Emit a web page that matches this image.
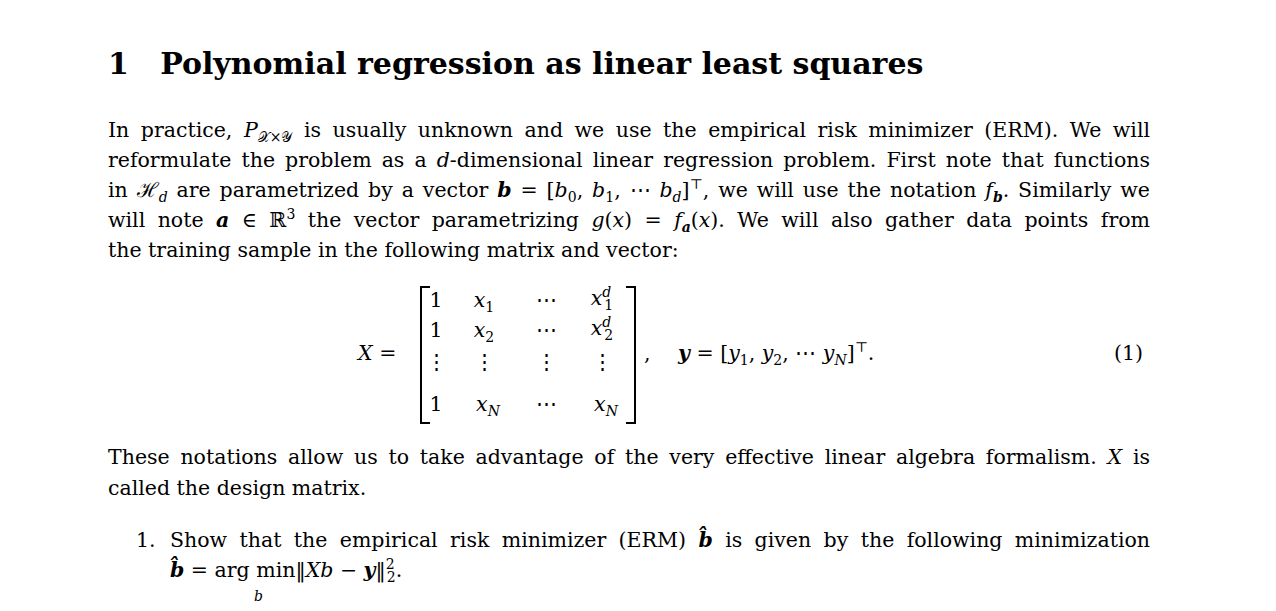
<!DOCTYPE html>
<html><head><meta charset="utf-8">
<script src="https://cdn.jsdelivr.net/npm/chart.js@4"></script>
<style>
body{margin:0;width:1276px;height:611px;background:#fff;font-family:"DejaVu Serif",serif;color:#000;overflow:hidden;position:relative}
.a{position:absolute;white-space:nowrap}
h1{position:absolute;left:108px;top:46px;margin:0;font-size:30px;font-weight:bold;white-space:nowrap}
.p{position:absolute;left:108px;width:1042px;font-size:20.5px;line-height:30px;text-align:justify;text-align-last:justify;white-space:nowrap}
.last{text-align-last:left}
i{font-style:italic}
sub,sup{font-size:14px;line-height:0}
.mat{position:absolute;left:420px;top:286px;width:212px;height:138px;border-left:2px solid #000;border-right:2px solid #000}
.mat:before,.mat:after{content:"";position:absolute;top:0;bottom:0;width:8px;border-top:2px solid #000;border-bottom:2px solid #000}
.mat:before{left:0}.mat:after{right:0}
.c{position:absolute;font-size:20.5px;transform:translateX(-50%);white-space:nowrap}
</style></head><body>
<h1>1&nbsp;&nbsp;&nbsp;Polynomial regression as linear least squares</h1>
<div class="p" style="top:115px">In practice, <i>P</i><sub>𝒳×𝒴</sub> is usually unknown and we use the empirical risk minimizer (ERM). We will</div>
<div class="p" style="top:145px">reformulate the problem as a <i>d</i>-dimensional linear regression problem. First note that functions</div>
<div class="p" style="top:175px">in ℋ<sub><i>d</i></sub> are parametrized by a vector <b><i>b</i></b> = [<i>b</i><sub>0</sub>, <i>b</i><sub>1</sub>, ⋯ <i>b<sub>d</sub></i>]<sup>⊤</sup>, we will use the notation <i>f</i><sub><b><i>b</i></b></sub>. Similarly we</div>
<div class="p" style="top:205px">will note <b><i>a</i></b> ∈ ℝ<sup>3</sup> the vector parametrizing <i>g</i>(<i>x</i>) = <i>f</i><sub><b><i>a</i></b></sub>(<i>x</i>). We will also gather data points from</div>
<div class="p last" style="top:235px">the training sample in the following matrix and vector:</div>
<div class="a" style="left:358px;top:341px;font-size:20.5px"><i>X</i> =</div>
<div class="mat">
<div class="c" style="left:14px;top:2px">1</div><div class="c" style="left:62px;top:2px"><i>x</i><sub>1</sub></div><div class="c" style="left:124px;top:2px">⋯</div><div class="c" style="left:180px;top:0px"><i>x</i><sup><i>d</i></sup><sub style="margin-left:-7px">1</sub></div>
<div class="c" style="left:14px;top:32px">1</div><div class="c" style="left:62px;top:32px"><i>x</i><sub>2</sub></div><div class="c" style="left:124px;top:32px">⋯</div><div class="c" style="left:180px;top:30px"><i>x</i><sup><i>d</i></sup><sub style="margin-left:-7px">2</sub></div>
<div class="c" style="left:14px;top:64px">⋮</div><div class="c" style="left:62px;top:64px">⋮</div><div class="c" style="left:124px;top:64px">⋮</div><div class="c" style="left:180px;top:64px">⋮</div>
<div class="c" style="left:14px;top:106px">1</div><div class="c" style="left:66px;top:106px"><i>x<sub>N</sub></i></div><div class="c" style="left:124px;top:106px">⋯</div><div class="c" style="left:184px;top:106px"><i>x<sub>N</sub></i></div>
</div>
<div class="a" style="left:644px;top:341px;font-size:20.5px">,</div>
<div class="a" style="left:678px;top:341px;font-size:20.5px"><b><i>y</i></b> = [<i>y</i><sub>1</sub>, <i>y</i><sub>2</sub>, ⋯ <i>y<sub>N</sub></i>]<sup>⊤</sup>.</div>
<div class="a" style="left:1114px;top:341px;font-size:20.5px">(1)</div>
<div class="p" style="top:442px">These notations allow us to take advantage of the very effective linear algebra formalism. <i>X</i> is</div>
<div class="p last" style="top:473px">called the design matrix.</div>
<div class="a" style="left:136px;top:525px;font-size:20.5px;line-height:30px">1.</div>
<div class="p" style="left:170px;width:980px;top:525px">Show that the empirical risk minimizer (ERM) <b><i>b̂</i></b> is given by the following minimization</div>
<div class="a" style="left:170px;top:555px;font-size:20.5px;line-height:30px"><b><i>b̂</i></b> = arg min‖<i>Xb</i> − <b><i>y</i></b>‖<sup>2</sup><sub style="margin-left:-8px">2</sub>.</div>
<div class="a" style="left:254px;top:588px;font-size:14px"><i>b</i></div>
</body></html>
